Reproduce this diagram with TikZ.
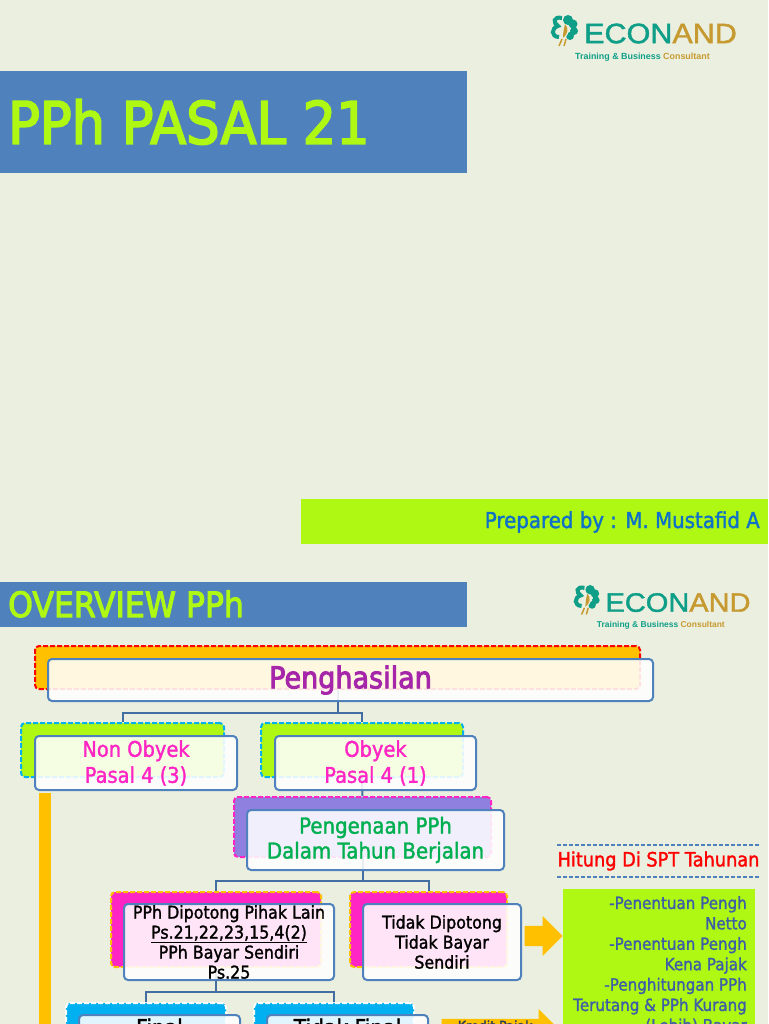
\documentclass[tikz,border=0pt]{standalone}
\usepackage{fontspec}
\setmainfont{DejaVu Sans}[FakeStretch=0.9,FakeBold=1.5]
\newfontfamily\headfont{DejaVu Sans}[FakeStretch=0.9,FakeBold=3]
\newfontfamily\logofont{Liberation Sans}[FakeStretch=1.09,FakeBold=1.5]
\newfontfamily\tagfont{Liberation Sans Bold}
\usetikzlibrary{shapes.arrows}
\definecolor{pagebg}{HTML}{EBEFDF}
\definecolor{barblue}{HTML}{4F81BD}
\definecolor{lime}{HTML}{AEF814}
\definecolor{amber}{HTML}{FFC000}
\definecolor{hotpink}{HTML}{FF25C4}
\definecolor{skyblue}{HTML}{00B0F0}
\definecolor{lilac}{HTML}{8F80E0}
\definecolor{plum}{HTML}{A626AA}
\definecolor{leaf}{HTML}{00B050}
\definecolor{teal}{HTML}{0F9F88}
\definecolor{gold}{HTML}{C69A30}
\definecolor{slate}{HTML}{3D5FA5}
\definecolor{linkblue}{HTML}{0F70C8}
\tikzset{
  bar/.style={anchor=north west,inner sep=0pt,fill=barblue,minimum height=45pt},
  backbox/.style={anchor=north west,inner sep=0pt,rounded corners=4pt,
    dash pattern=on 5pt off 2pt,line width=2pt,xshift=-1pt,yshift=1pt},
  frontbox/.style={anchor=north west,inner sep=0pt,rounded corners=4pt,draw=barblue,
    line width=2pt,fill=white,fill opacity=0.88,text opacity=1,align=center,xshift=-1pt,yshift=1pt},
  tree/.style={draw=barblue!85!black,line width=2pt},
  blockarrow/.style={single arrow,anchor=tip,fill=amber,inner sep=0pt,single arrow head extend=10pt,
    text height=12pt,text depth=8pt},
  rule/.style={draw=barblue,dash pattern=on 4pt off 2pt,line width=2pt}
}
\newcommand{\econlogo}[3]{%
  \begin{scope}[shift={(#1,#2)},scale=#3,every node/.append style={scale=#3}]
    \draw[teal,line width=4pt] (11,3) .. controls (2,1) and (2,8) .. (7,11) .. controls (0,13) and (0,22) .. (8,22);
    \fill[teal] (17,5) circle (5) (22,9) circle (4.5) (23,16) circle (4) (19,21) circle (4);
    \fill[pagebg] (14,9) .. controls (20,12) and (19,18) .. (13,24) .. controls (13,18) and (12,13) .. (14,9);
    \fill[gold] (14,9) .. controls (18,13) and (17,19) .. (12,23) .. controls (12,18) and (13,13) .. (14,9);
    \draw[gold,line width=1.5pt] (11,24) -- (8,31) (15,24) -- (13,31);
    \node[anchor=west,inner sep=0pt,font=\logofont\fontsize{28}{28}\selectfont] (econword) at (33,18.5)
      {\color{teal}ECON\color{gold}AND};
    \node[anchor=west,inner sep=0pt,font=\tagfont\fontsize{8.9}{10}\selectfont] (econtag) at (24,42)
      {\color{teal}Training \& Business \color{gold}Consultant};
  \end{scope}}
\begin{document}
\begin{tikzpicture}[x=1pt,y=-1pt]
  \useasboundingbox (0,0) rectangle (768,1024);
  \clip (0,0) rectangle (768,1024);
  \fill[pagebg] (0,0) rectangle (768,1024);
  % first slide
  \node[bar,minimum width=467pt,minimum height=102pt] (titlebar) at (0,71) {};
  \node[anchor=west,inner sep=0pt,text=lime,font=\headfont\fontsize{58.5}{58}\selectfont] (titletext) at (8,122) {PPh PASAL 21};
  \node[bar,fill=lime,minimum width=467pt] (prepbar) at (301,499) {};
  \node[anchor=east,inner sep=0pt,text=linkblue,font=\fontsize{22}{24}\selectfont] (preptext) at (760,522)
    {Prepared by : M. Mustafid A};
  \econlogo{551}{15}{1}
  % second slide
  \node[bar,minimum width=467pt] (overbar) at (0,582) {};
  \node[anchor=west,inner sep=0pt,text=lime,font=\headfont\fontsize{35}{35}\selectfont] (overtext) at (8,604) {OVERVIEW PPh};
  \econlogo{574}{585}{0.95}
  % dashed boxes behind
  \node[backbox,fill=amber,draw=red,minimum width=605pt,minimum height=43pt] (pengback) at (35,646) {};
  \node[backbox,fill=lime,draw=skyblue,minimum width=203pt,minimum height=54pt] (nonback) at (21,723) {};
  \node[backbox,fill=lime,draw=skyblue,minimum width=202pt,minimum height=54pt] (obyback) at (261,723) {};
  \node[backbox,fill=lilac,draw=hotpink,minimum width=257pt,minimum height=60pt] (dalamback) at (234,797) {};
  \node[backbox,fill=hotpink,draw=amber,minimum width=210pt,minimum height=75pt] (potongback) at (111,892) {};
  \node[backbox,fill=hotpink,draw=amber,minimum width=157pt,minimum height=75pt] (sendiriback) at (350,892) {};
  \node[backbox,fill=skyblue,draw=white,minimum width=160pt,minimum height=72pt] (finalback) at (66,1003) {};
  \node[backbox,fill=skyblue,draw=white,minimum width=160pt,minimum height=72pt] (tidakback) at (254,1003) {};
  % connectors
  \draw[tree] (pengback.south) -- ++(0,23) -| (nonback.north);
  \draw[tree] (pengback.south) -- ++(0,23) -| (obyback.north);
  \draw[tree] (obyback.south) -- (dalamback.north);
  \draw[tree] (dalamback.south) -- ++(0,23) -| (potongback.north);
  \draw[tree] (dalamback.south) -- ++(0,23) -| (sendiriback.north);
  \draw[tree] (potongback.south) -- ++(0,24) -| (finalback.north);
  \draw[tree] (potongback.south) -- ++(0,24) -| (tidakback.north);
  % boxes in front
  \node[frontbox,text=plum,font=\headfont\fontsize{30}{30}\selectfont,minimum width=605pt,minimum height=42pt] (penghasilan) at (48,659) {Penghasilan};
  \node[frontbox,text=hotpink,font=\fontsize{21.6}{26}\selectfont,minimum width=202pt,minimum height=54pt] (nonobyek) at (35,736) {Non Obyek\\Pasal 4 (3)};
  \node[frontbox,text=hotpink,font=\fontsize{21.6}{26}\selectfont,minimum width=201pt,minimum height=54pt] (obyek) at (275,736) {Obyek\\Pasal 4 (1)};
  \node[frontbox,text=leaf,font=\fontsize{22}{25}\selectfont,minimum width=257pt,minimum height=60pt] (pengenaan) at (247,810) {Pengenaan PPh\\Dalam Tahun Berjalan};
  \node[frontbox,text=black,font=\fontsize{17.6}{20}\selectfont,minimum width=210pt,minimum height=76pt] (dipotong) at (124,904)
    {PPh Dipotong Pihak Lain\\\underline{Ps.21,22,23,15,4(2)}\\PPh Bayar Sendiri\\Ps.25};
  \node[frontbox,text=black,font=\fontsize{17.6}{20}\selectfont,minimum width=158pt,minimum height=76pt] (tidakpotong) at (363,904)
    {Tidak Dipotong\\Tidak Bayar\\Sendiri};
  \node[frontbox,text=black,font=\fontsize{22.5}{24}\selectfont,minimum width=161pt,minimum height=72pt,anchor=north] (final) at (160.5,1015) {Final\\ \\ };
  \node[frontbox,text=black,font=\fontsize{22.5}{24}\selectfont,minimum width=161pt,minimum height=72pt,anchor=north] (tidakfinal) at (348.5,1015) {Tidak Final\\ \\ };
  % left bar
  \fill[amber] (38.5,793) rectangle (51,1024);
  % right column
  \node[inner sep=0pt,text=red,font=\fontsize{19.7}{22}\selectfont,minimum width=203pt,minimum height=32pt] (spt) at (658.5,861) {Hitung Di SPT Tahunan};
  \draw[rule] (spt.north west) -- (spt.north east);
  \draw[rule] (spt.south west) -- (spt.south east);
  \node[anchor=north west,fill=lime,inner sep=0pt,minimum width=192pt,minimum height=160pt] (greenbox) at (563,889) {};
  \node[anchor=north east,inner sep=0pt,align=right,text=slate,font=\fontsize{16.8}{20.4}\selectfont] (greentext) at (747,896)
    {-Penentuan Pengh\\Netto\\-Penentuan Pengh\\Kena Pajak\\-Penghitungan PPh\\Terutang \& PPh Kurang\\(Lebih) Bayar};
  \node[blockarrow,minimum width=40pt,minimum height=38pt] (arrowone) at (563,936) {};
  \node[blockarrow,minimum width=40pt,minimum height=117pt,text=slate!60!black,font=\fontsize{14}{14}\selectfont] (arrowtwo) at (559,1029) {Kredit Pajak};
\end{tikzpicture}
\end{document}
